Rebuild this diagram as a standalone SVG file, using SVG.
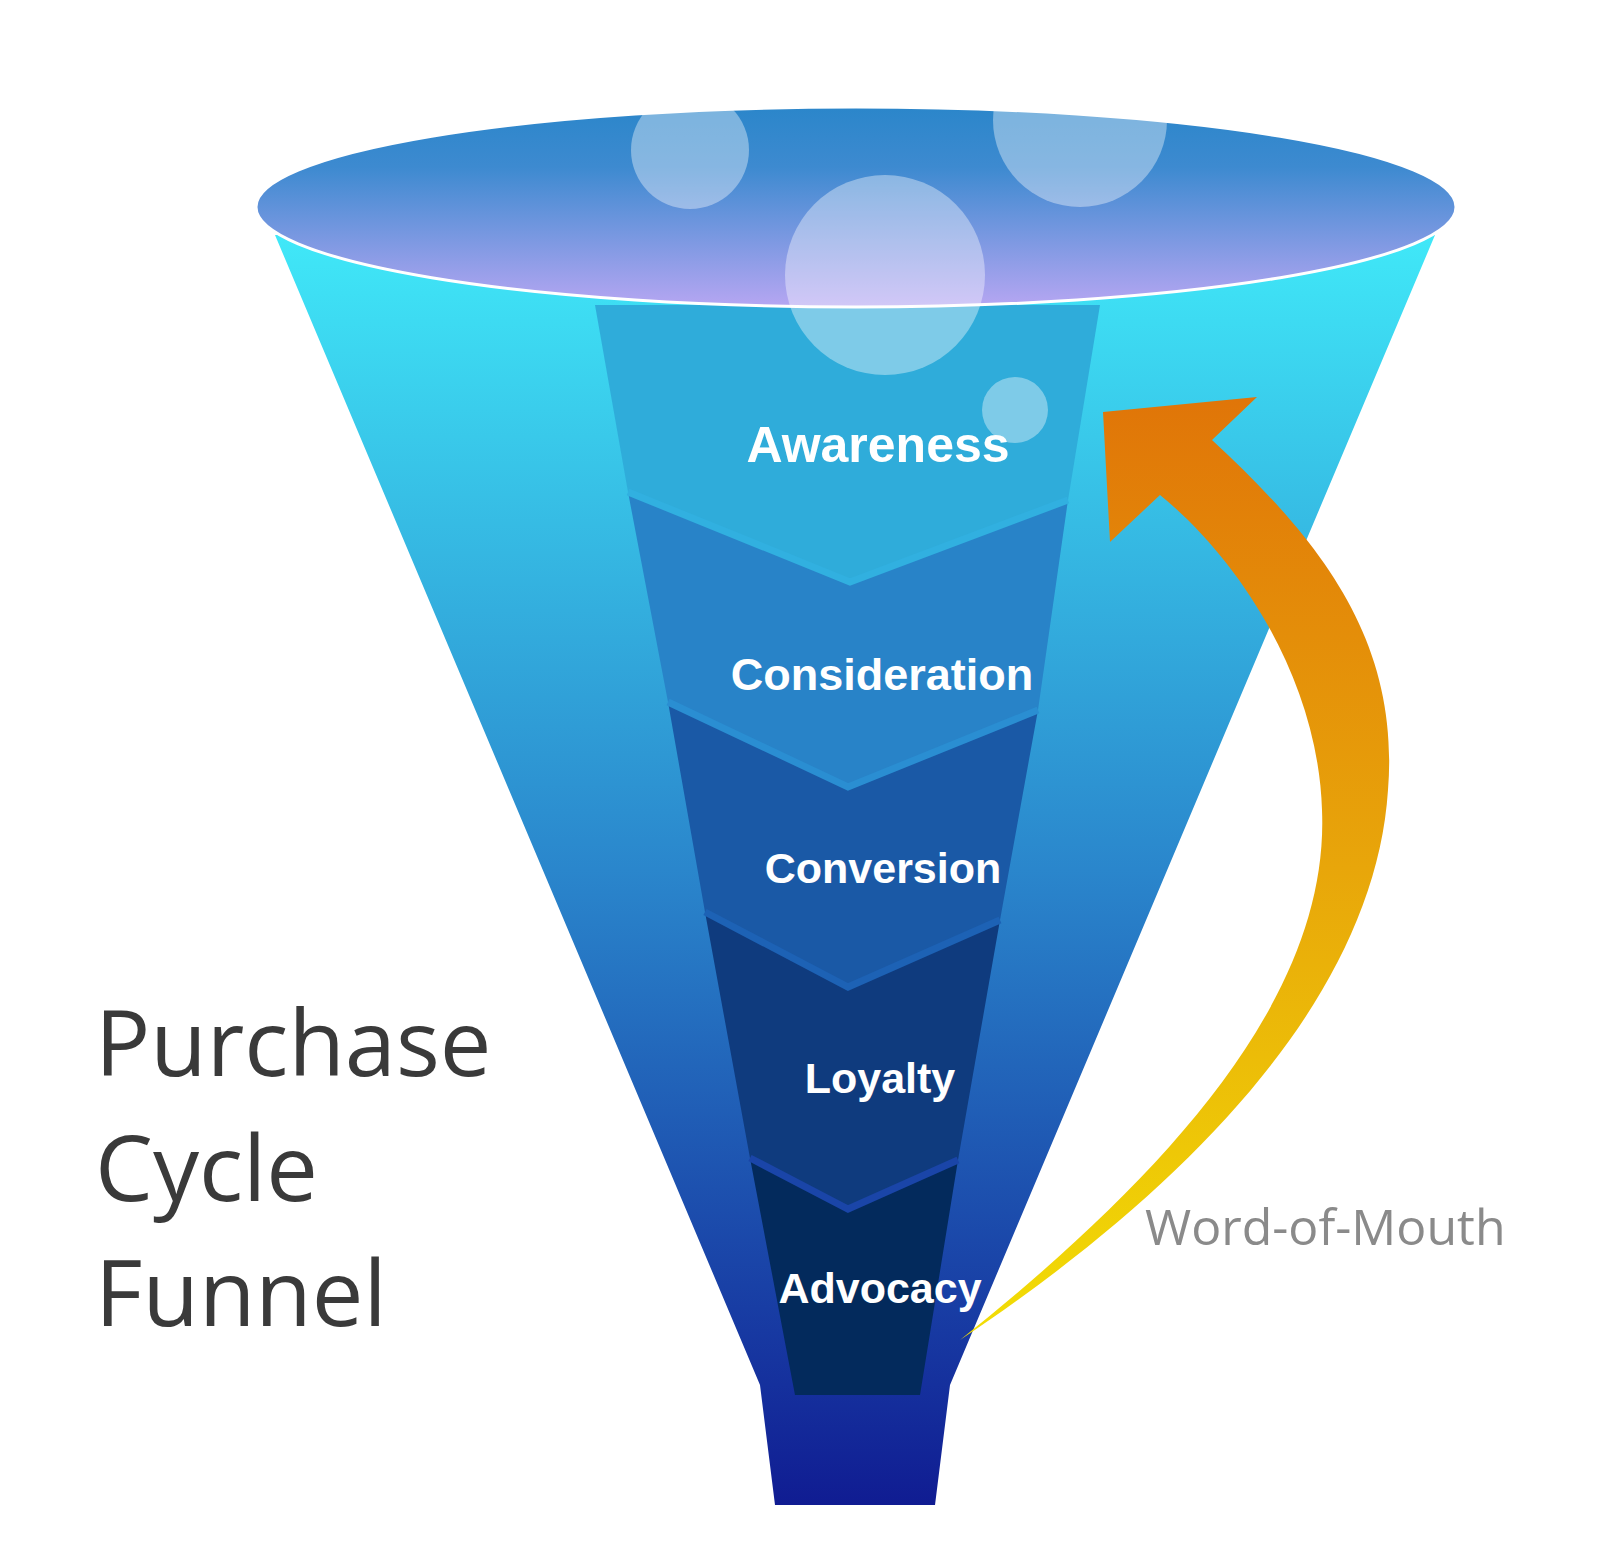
<svg xmlns="http://www.w3.org/2000/svg" width="1600" height="1541" viewBox="0 0 1600 1541">
<defs>
<linearGradient id="gf" x1="0" y1="0" x2="0" y2="1"><stop offset="0" stop-color="#40E8F8"/><stop offset="0.5" stop-color="#2A86CC"/><stop offset="1" stop-color="#101C92"/></linearGradient>
<linearGradient id="ge" x1="0" y1="0" x2="0" y2="1"><stop offset="0" stop-color="#2B86CA"/><stop offset="0.3" stop-color="#3D8AD0"/><stop offset="1" stop-color="#B6A6F2"/></linearGradient>
<linearGradient id="ga" x1="0" y1="0" x2="0" y2="1"><stop offset="0" stop-color="#E07508"/><stop offset="0.5" stop-color="#E8A60A"/><stop offset="1" stop-color="#F2DE05"/></linearGradient>
<style>
.lbl{font-family:"Liberation Sans",Arial,sans-serif;font-weight:bold;fill:#fff;text-anchor:middle}
.sep{fill:none;stroke-width:7}
.bub{fill:#fff;fill-opacity:0.38}
.title{font-family:"Open Sans","DejaVu Sans",sans-serif;font-size:92px;fill:#3A3A3A}
</style>
</defs>
<g id="funnel">
<polygon points="275,235 1435,235 950,1385 935,1505 775,1505 760,1385" fill="url(#gf)"/>
</g>
<g id="band-awareness">
<polygon points="595,305 1100,305 1068,500 850,585 628,492" fill="#2FACDA"/>
<text class="lbl" x="878" y="462" font-size="50">Awareness</text>
</g>
<g id="band-consideration">
<polygon points="628,492 850,585 1068,500 1038,710 848,790 668,702" fill="#2883C8"/>
<polyline class="sep" points="628,492 850,582 1068,500" stroke="#31B0E0"/>
<text class="lbl" x="882" y="690" font-size="45">Consideration</text>
</g>
<g id="band-conversion">
<polygon points="668,702 848,790 1038,710 1000,920 848,990 705,912" fill="#1A59A6"/>
<polyline class="sep" points="668,702 848,787 1038,710" stroke="#2A8ED2"/>
<text class="lbl" x="883" y="883" font-size="43">Conversion</text>
</g>
<g id="band-loyalty">
<polygon points="705,912 848,990 1000,920 958,1160 848,1212 750,1158" fill="#0F3B7E"/>
<polyline class="sep" points="705,912 848,987 1000,920" stroke="#1D62B5"/>
<text class="lbl" x="880" y="1093" font-size="43">Loyalty</text>
</g>
<g id="band-advocacy">
<polygon points="750,1158 848,1212 958,1160 920,1395 795,1395" fill="#032A5C"/>
<polyline class="sep" points="750,1158 848,1209 958,1160" stroke="#1A45A8"/>
<text class="lbl" x="880" y="1303" font-size="43">Advocacy</text>
</g>
<g id="rim">
<ellipse cx="856" cy="207" rx="600" ry="100" fill="url(#ge)" stroke="#fff" stroke-width="3"/>
</g>
<g id="bubbles">
<circle class="bub" cx="690" cy="150" r="59"/>
<circle class="bub" cx="1080" cy="120" r="87"/>
<circle class="bub" cx="885" cy="275" r="100"/>
<circle class="bub" cx="1015" cy="410" r="33"/>
</g>
<g id="connectors">
<path d="M1103,412 L1257,397 L1212,440 C1320,540 1400,640 1388,790 C1375,990 1200,1180 960,1340 C1160,1180 1330,1000 1322,810 C1318,680 1240,560 1160,495 L1110,542 Z" fill="url(#ga)"/>
</g>
<g id="labels">
<text class="title" x="95" y="1076">Purchase</text>
<text class="title" x="95" y="1201">Cycle</text>
<text class="title" x="95" y="1326">Funnel</text>
<text x="1145" y="1245" font-family="Open Sans,DejaVu Sans,sans-serif" font-size="50" fill="#8A8A8A">Word-of-Mouth</text>
</g>
</svg>
